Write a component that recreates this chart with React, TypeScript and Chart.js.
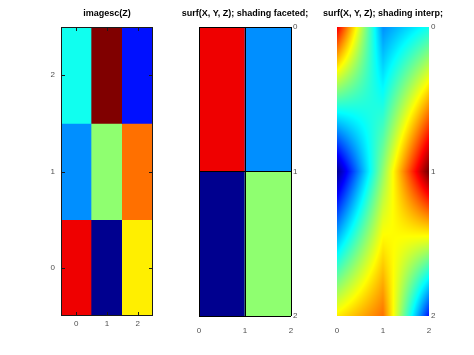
import React, { useEffect, useRef } from 'react';
import { Chart, registerables } from 'chart.js';

Chart.register(...registerables);

// ---- data (Z = magic(3)) ----
const gridIndex = [0, 1, 2];
const zRow0 = [8, 1, 6];
const zRow1 = [3, 5, 7];
const zRow2 = [4, 9, 2];
const Z = [zRow0, zRow1, zRow2];
const tickValues = [0, 1, 2];
const panelTitles = ['imagesc(Z)', 'surf(X, Y, Z); shading faceted;', 'surf(X, Y, Z); shading interp;'];

const W = 474;
const H = 355;
const FONT = "'Liberation Sans', Arial, Helvetica, sans-serif";
const TICK_COLOR = '#505050';

const zAll = Z.flat();
const zMin = Math.min(...zAll);
const zMax = Math.max(...zAll);

const clamp01 = (v: number) => Math.max(0, Math.min(1, v));
// MATLAB/Octave jet(64), row k in [1, 64]
function jetRow(k: number): [number, number, number] {
  const r = clamp01(Math.min((k - 24) / 16, (72 - k) / 16));
  const g = clamp01(Math.min((k - 8) / 16, (56 - k) / 16));
  const b = clamp01(Math.min((k + 8) / 16, (40 - k) / 16));
  return [Math.round(r * 255), Math.round(g * 255), Math.round(b * 255)];
}
function jetIndexed(v: number): string {
  const t = (v - zMin) / (zMax - zMin);
  const k = Math.min(64, Math.floor(t * 64) + 1);
  const [r, g, b] = jetRow(k);
  return `rgb(${r},${g},${b})`;
}
function jetSmooth(v: number): [number, number, number] {
  const t = (v - zMin) / (zMax - zMin);
  const k = Math.max(1, Math.min(64, t * 64 + 1));
  return jetRow(k);
}

const tickFont = { family: FONT, size: 8, lineHeight: 1 };

function titlePlugin(text: string) {
  return {
    id: 'panelTitle',
    afterDraw(chart: any) {
      const { ctx, chartArea } = chart;
      ctx.save();
      ctx.font = `bold 9px ${FONT}`;
      ctx.fillStyle = '#000';
      ctx.textAlign = 'center';
      ctx.textBaseline = 'middle';
      ctx.fillText(text, (chartArea.left + chartArea.right) / 2, chartArea.top - 13);
      ctx.restore();
    },
  };
}

const frameTicksPlugin = {
  id: 'frameTicks',
  afterDatasetsDraw(chart: any) {
    const { ctx, chartArea, scales } = chart;
    const { left, right, top, bottom } = chartArea;
    ctx.save();
    ctx.strokeStyle = '#1a1a1a';
    ctx.lineWidth = 1;
    ctx.strokeRect(Math.round(left) + 0.5, Math.round(top) + 0.5, Math.round(right - left) - 1, Math.round(bottom - top) - 1);
    ctx.beginPath();
    const len = 4;
    for (const v of tickValues) {
      const px = Math.round(scales.x.getPixelForValue(v)) + 0.5;
      ctx.moveTo(px, top); ctx.lineTo(px, top + len);
      ctx.moveTo(px, bottom); ctx.lineTo(px, bottom - len);
      const py = Math.round(scales.y.getPixelForValue(v)) + 0.5;
      ctx.moveTo(left, py); ctx.lineTo(left + len, py);
      ctx.moveTo(right, py); ctx.lineTo(right - len, py);
    }
    ctx.stroke();
    ctx.restore();
  },
};

const interpPlugin = {
  id: 'interpSurface',
  beforeDatasetsDraw(chart: any) {
    const { ctx, chartArea, scales } = chart;
    const x0 = Math.round(chartArea.left);
    const y0 = Math.round(chartArea.top);
    const w = Math.round(chartArea.right) - x0;
    const h = Math.round(chartArea.bottom) - y0;
    const off = document.createElement('canvas');
    off.width = w; off.height = h;
    const octx = off.getContext('2d')!;
    const img = octx.createImageData(w, h);
    const n = gridIndex.length - 1;
    for (let j = 0; j < h; j++) {
      const vv = scales.y.getValueForPixel(y0 + j + 0.5);
      const r0 = Math.max(0, Math.min(n - 1, Math.floor(vv)));
      const fv = vv - r0;
      for (let i = 0; i < w; i++) {
        const hh = scales.x.getValueForPixel(x0 + i + 0.5);
        const c0 = Math.max(0, Math.min(n - 1, Math.floor(hh)));
        const fh = hh - c0;
        // vertex value at (h, v) = Z[h][v]
        const a = Z[c0][r0], b = Z[c0 + 1][r0], c = Z[c0][r0 + 1], d = Z[c0 + 1][r0 + 1];
        const val = a * (1 - fh) * (1 - fv) + b * fh * (1 - fv) + c * (1 - fh) * fv + d * fh * fv;
        const [R, G, B] = jetSmooth(val);
        const p = (j * w + i) * 4;
        img.data[p] = R; img.data[p + 1] = G; img.data[p + 2] = B; img.data[p + 3] = 255;
      }
    }
    octx.putImageData(img, 0, 0);
    ctx.drawImage(off, x0, y0);
  },
};

function makeImagesc(canvas: HTMLCanvasElement) {
  const cells: any[] = [];
  const colors: string[] = [];
  for (const yi of gridIndex) {
    for (const xi of gridIndex) {
      cells.push({ x: xi, y: [yi - 0.5, yi + 0.5] });
      colors.push(jetIndexed(Z[yi][xi]));
    }
  }
  return new Chart(canvas, {
    type: 'bar',
    data: {
      datasets: [{
        data: cells,
        backgroundColor: colors,
        borderWidth: 0,
        barPercentage: 1,
        categoryPercentage: 1,
      }],
    },
    options: {
      responsive: false,
      animation: false,
      events: [],
      layout: { padding: { left: 41, right: 321, top: 27, bottom: 19 } },
      plugins: { legend: { display: false }, tooltip: { enabled: false }, title: { display: false } },
      scales: {
        x: {
          type: 'linear', position: 'bottom', min: -0.5, max: 2.5, offset: false,
          grid: { display: false, offset: false, drawTicks: false },
          border: { display: false },
          ticks: { font: tickFont, color: TICK_COLOR, padding: 4, maxRotation: 0 },
          afterBuildTicks: (s: any) => { s.ticks = tickValues.map((v) => ({ value: v })); },
          afterFit: (s: any) => { s.height = 20; },
        },
        y: {
          type: 'linear', position: 'left', min: -0.5, max: 2.5, beginAtZero: false,
          grid: { display: false, drawTicks: false },
          border: { display: false },
          ticks: { font: tickFont, color: TICK_COLOR, padding: 6 },
          afterBuildTicks: (s: any) => { s.ticks = tickValues.map((v) => ({ value: v })); },
          afterFit: (s: any) => { s.width = 20; },
        },
      },
    } as any,
    plugins: [frameTicksPlugin, titlePlugin(panelTitles[0])],
  });
}

function surfScales(left: number, right: number) {
  return {
    padding: { left, right: W - right - 20, top: 27, bottom: 19 },
  };
}

function makeFaceted(canvas: HTMLCanvasElement) {
  const faces: any[] = [];
  const colors: string[] = [];
  for (let hIdx = 0; hIdx < gridIndex.length - 1; hIdx++) {
    for (let vIdx = 0; vIdx < gridIndex.length - 1; vIdx++) {
      faces.push({ x: gridIndex[hIdx] + 0.5, y: [gridIndex[vIdx], gridIndex[vIdx + 1]] });
      colors.push(jetIndexed(Z[hIdx][vIdx]));
    }
  }
  return new Chart(canvas, {
    type: 'bar',
    data: {
      datasets: [{
        data: faces,
        backgroundColor: colors,
        borderWidth: 0,
        barPercentage: 1,
        categoryPercentage: 1,
      }],
    },
    options: {
      responsive: false,
      animation: false,
      events: [],
      layout: surfScales(199, 291),
      plugins: { legend: { display: false }, tooltip: { enabled: false }, title: { display: false } },
      scales: {
        x: {
          type: 'linear', position: 'bottom', min: 0, max: 2, offset: false,
          grid: { display: true, offset: false, drawTicks: false, color: '#000', lineWidth: 1, z: 1 },
          border: { display: false },
          ticks: { font: tickFont, color: TICK_COLOR, padding: 11, stepSize: 1, maxRotation: 0 },
          afterFit: (s: any) => { s.height = 20; },
        },
        y: {
          type: 'linear', position: 'right', min: 0, max: 2, reverse: true, beginAtZero: false,
          grid: { display: true, drawTicks: false, color: '#000', lineWidth: 1, z: 1 },
          border: { display: false },
          ticks: { font: tickFont, color: TICK_COLOR, padding: 2, stepSize: 1 },
          afterFit: (s: any) => { s.width = 20; },
        },
      },
    } as any,
    plugins: [titlePlugin(panelTitles[1])],
  });
}

function makeInterp(canvas: HTMLCanvasElement) {
  return new Chart(canvas, {
    type: 'scatter',
    data: { datasets: [{ data: [] }] },
    options: {
      responsive: false,
      animation: false,
      events: [],
      layout: surfScales(337, 429),
      plugins: { legend: { display: false }, tooltip: { enabled: false }, title: { display: false } },
      scales: {
        x: {
          type: 'linear', position: 'bottom', min: 0, max: 2,
          grid: { display: false, drawTicks: false },
          border: { display: false },
          ticks: { font: tickFont, color: TICK_COLOR, padding: 11, stepSize: 1, maxRotation: 0 },
          afterFit: (s: any) => { s.height = 20; },
        },
        y: {
          type: 'linear', position: 'right', min: 0, max: 2, reverse: true,
          grid: { display: false, drawTicks: false },
          border: { display: false },
          ticks: { font: tickFont, color: TICK_COLOR, padding: 2, stepSize: 1 },
          afterFit: (s: any) => { s.width = 20; },
        },
      },
    } as any,
    plugins: [interpPlugin, titlePlugin(panelTitles[2])],
  });
}

export default function App() {
  const r1 = useRef<HTMLCanvasElement>(null);
  const r2 = useRef<HTMLCanvasElement>(null);
  const r3 = useRef<HTMLCanvasElement>(null);
  useEffect(() => {
    const charts = [makeImagesc(r1.current!), makeFaceted(r2.current!), makeInterp(r3.current!)];
    return () => charts.forEach((c) => c.destroy());
  }, []);
  const cs: React.CSSProperties = { position: 'absolute', left: 0, top: 0, width: W, height: H };
  return (
    <div style={{ position: 'fixed', left: 0, top: 0, width: W, height: H, background: '#fff' }}>
      <canvas ref={r1} width={W} height={H} style={cs} />
      <canvas ref={r2} width={W} height={H} style={cs} />
      <canvas ref={r3} width={W} height={H} style={cs} />
    </div>
  );
}
